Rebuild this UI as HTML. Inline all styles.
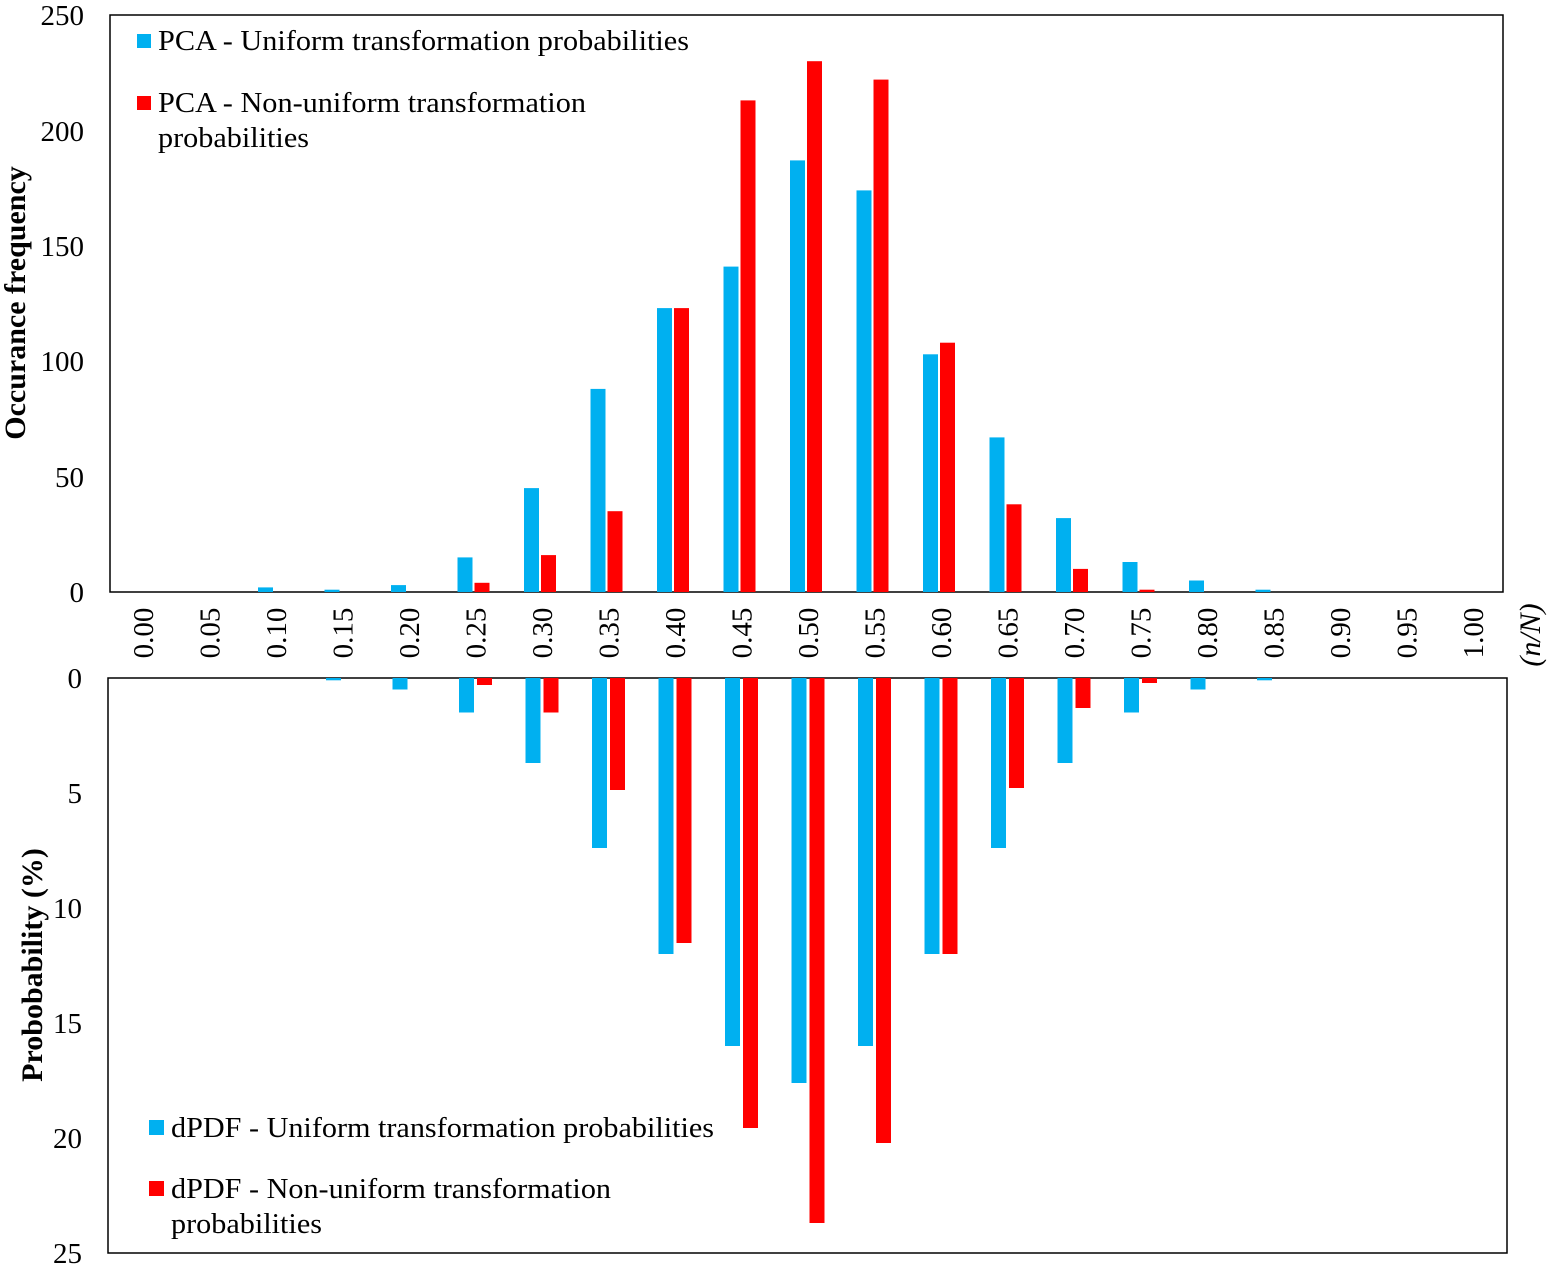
<!DOCTYPE html>
<html><head><meta charset="utf-8"><style>
html,body{margin:0;padding:0;background:#fff;}
svg{display:block;font-family:"Liberation Serif",serif;}
</style></head><body>
<svg width="1550" height="1267" viewBox="0 0 1550 1267" xmlns="http://www.w3.org/2000/svg">
<rect x="110" y="15" width="1393" height="577" fill="none" stroke="#000" stroke-width="1.5"/>
<rect x="108" y="678" width="1399" height="575" fill="none" stroke="#000" stroke-width="1.5"/>
<g font-size="29" text-anchor="end" fill="#000">
<text x="84" y="25">250</text><text x="84" y="141">200</text><text x="84" y="256">150</text>
<text x="84" y="371">100</text><text x="84" y="487">50</text><text x="84" y="602">0</text>
<text x="82" y="688">0</text><text x="82" y="803">5</text><text x="82" y="918">10</text>
<text x="82" y="1033">15</text><text x="82" y="1148">20</text><text x="82" y="1263">25</text>
</g>
<text transform="translate(25,303) rotate(-90)" font-size="30" font-weight="bold" text-anchor="middle">Occurance frequency</text>
<text transform="translate(42,965) rotate(-90)" font-size="30" font-weight="bold" text-anchor="middle">Probobability (%)</text>
<text transform="translate(1540,635) rotate(-90)" font-size="30" font-style="italic" text-anchor="middle">(n/N)</text>
<g font-size="29" text-anchor="middle">
<text transform="translate(153,633) rotate(-90)">0.00</text>
<text transform="translate(219.5,633) rotate(-90)">0.05</text>
<text transform="translate(286,633) rotate(-90)">0.10</text>
<text transform="translate(352.5,633) rotate(-90)">0.15</text>
<text transform="translate(419,633) rotate(-90)">0.20</text>
<text transform="translate(485.5,633) rotate(-90)">0.25</text>
<text transform="translate(552,633) rotate(-90)">0.30</text>
<text transform="translate(618.5,633) rotate(-90)">0.35</text>
<text transform="translate(685,633) rotate(-90)">0.40</text>
<text transform="translate(751.5,633) rotate(-90)">0.45</text>
<text transform="translate(818,633) rotate(-90)">0.50</text>
<text transform="translate(884.5,633) rotate(-90)">0.55</text>
<text transform="translate(951,633) rotate(-90)">0.60</text>
<text transform="translate(1017.5,633) rotate(-90)">0.65</text>
<text transform="translate(1084,633) rotate(-90)">0.70</text>
<text transform="translate(1150.5,633) rotate(-90)">0.75</text>
<text transform="translate(1217,633) rotate(-90)">0.80</text>
<text transform="translate(1283.5,633) rotate(-90)">0.85</text>
<text transform="translate(1350,633) rotate(-90)">0.90</text>
<text transform="translate(1416.5,633) rotate(-90)">0.95</text>
<text transform="translate(1483,633) rotate(-90)">1.00</text>
</g>
<g fill="#00B0F0">
<rect x="258" y="587.4" width="15" height="4.6"/>
<rect x="324.5" y="589.7" width="15" height="2.3"/>
<rect x="391" y="585.1" width="15" height="6.9"/>
<rect x="457.5" y="557.4" width="15" height="34.6"/>
<rect x="524" y="488.1" width="15" height="103.9"/>
<rect x="590.5" y="388.9" width="15" height="203.1"/>
<rect x="657" y="308.1" width="15" height="283.9"/>
<rect x="723.5" y="266.6" width="15" height="325.4"/>
<rect x="790" y="160.4" width="15" height="431.6"/>
<rect x="856.5" y="190.4" width="15" height="401.6"/>
<rect x="923" y="354.3" width="15" height="237.7"/>
<rect x="989.5" y="437.4" width="15" height="154.6"/>
<rect x="1056" y="518.1" width="15" height="73.9"/>
<rect x="1122.5" y="562" width="15" height="30"/>
<rect x="1189" y="580.5" width="15" height="11.5"/>
<rect x="1255.5" y="589.7" width="15" height="2.3"/>
</g>
<g fill="#FF0000">
<rect x="474.5" y="582.8" width="15" height="9.2"/>
<rect x="541" y="555.1" width="15" height="36.9"/>
<rect x="607.5" y="511.2" width="15" height="80.8"/>
<rect x="674" y="308.1" width="15" height="283.9"/>
<rect x="740.5" y="100.4" width="15" height="491.6"/>
<rect x="807" y="61.2" width="15" height="530.8"/>
<rect x="873.5" y="79.6" width="15" height="512.4"/>
<rect x="940" y="342.7" width="15" height="249.3"/>
<rect x="1006.5" y="504.3" width="15" height="87.7"/>
<rect x="1073" y="568.9" width="15" height="23.1"/>
<rect x="1139.5" y="589.7" width="15" height="2.3"/>
</g>
<g fill="#00B0F0">
<rect x="326" y="678" width="15" height="2.3"/>
<rect x="392.5" y="678" width="15" height="11.5"/>
<rect x="459" y="678" width="15" height="34.5"/>
<rect x="525.5" y="678" width="15" height="85"/>
<rect x="592" y="678" width="15" height="170"/>
<rect x="658.5" y="678" width="15" height="276"/>
<rect x="725" y="678" width="15" height="368"/>
<rect x="791.5" y="678" width="15" height="405"/>
<rect x="858" y="678" width="15" height="368"/>
<rect x="924.5" y="678" width="15" height="276"/>
<rect x="991" y="678" width="15" height="170"/>
<rect x="1057.5" y="678" width="15" height="85"/>
<rect x="1124" y="678" width="15" height="34.5"/>
<rect x="1190.5" y="678" width="15" height="11.5"/>
<rect x="1257" y="678" width="15" height="2.3"/>
</g>
<g fill="#FF0000">
<rect x="477" y="678" width="15" height="7"/>
<rect x="543.5" y="678" width="15" height="34.5"/>
<rect x="610" y="678" width="15" height="112"/>
<rect x="676.5" y="678" width="15" height="265"/>
<rect x="743" y="678" width="15" height="450"/>
<rect x="809.5" y="678" width="15" height="545"/>
<rect x="876" y="678" width="15" height="465"/>
<rect x="942.5" y="678" width="15" height="276"/>
<rect x="1009" y="678" width="15" height="110"/>
<rect x="1075.5" y="678" width="15" height="30"/>
<rect x="1142" y="678" width="15" height="5"/>
</g>
<g font-size="29">
<rect x="137" y="34" width="14" height="14" fill="#00B0F0"/>
<text x="158" y="50" textLength="531" lengthAdjust="spacingAndGlyphs">PCA - Uniform transformation probabilities</text>
<rect x="137" y="96" width="14" height="14" fill="#FF0000"/>
<text x="158" y="112" textLength="428" lengthAdjust="spacingAndGlyphs">PCA - Non-uniform transformation</text>
<text x="158" y="147" textLength="151" lengthAdjust="spacingAndGlyphs">probabilities</text>
<rect x="149" y="1120" width="15" height="15" fill="#00B0F0"/>
<text x="171" y="1137" textLength="543" lengthAdjust="spacingAndGlyphs">dPDF - Uniform transformation probabilities</text>
<rect x="149" y="1181" width="15" height="15" fill="#FF0000"/>
<text x="171" y="1198" textLength="440" lengthAdjust="spacingAndGlyphs">dPDF - Non-uniform transformation</text>
<text x="171" y="1233" textLength="151" lengthAdjust="spacingAndGlyphs">probabilities</text>
</g>
</svg>
</body></html>
